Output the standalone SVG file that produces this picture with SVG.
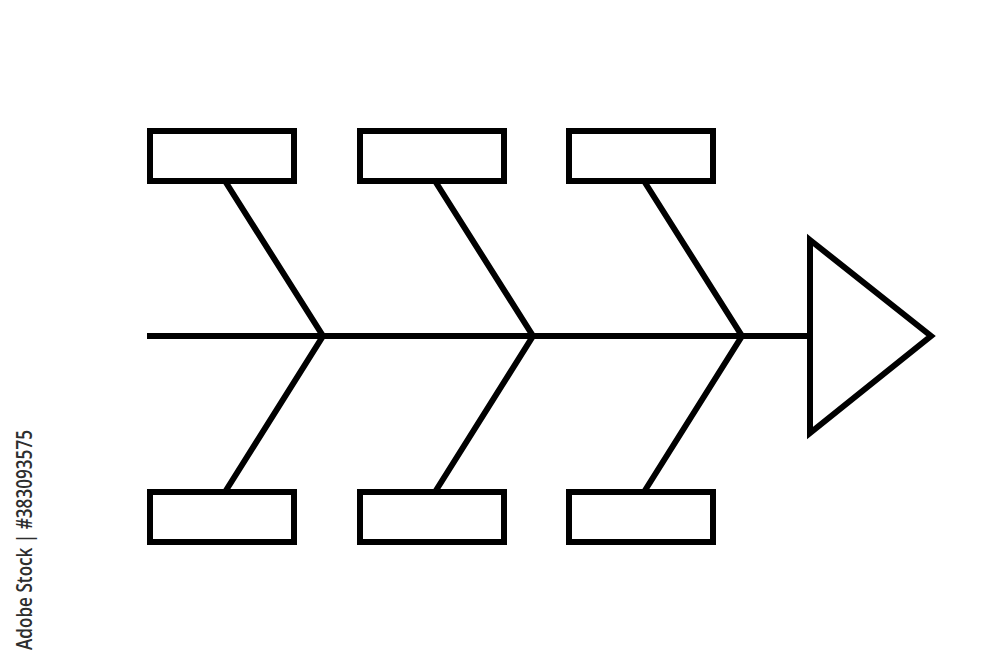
<svg xmlns="http://www.w3.org/2000/svg" width="1000" height="667" viewBox="0 0 1000 667">
  <style>
    .box { fill: #ffffff; stroke: #000000; stroke-width: 6; }
    .line { fill: none; stroke: #000000; stroke-width: 6; stroke-linejoin: miter; stroke-miterlimit: 10; }
    .wm { font-family: "Open Sans", "DejaVu Sans", sans-serif; font-size: 21px; font-weight: 600; fill: #2e2e2e; }
  </style>
  <rect x="0" y="0" width="1000" height="667" fill="#ffffff"/>
  <g id="connectors">
    <line class="line" x1="147" y1="336" x2="810" y2="336"/>
    <polyline class="line" points="225,181 323,336 225,492"/>
    <polyline class="line" points="435,181 533,336 435,492"/>
    <polyline class="line" points="644,181 742,336 644,492"/>
  </g>
  <g id="box-top-1"><rect class="box" x="150" y="131" width="144" height="50"/></g>
  <g id="box-top-2"><rect class="box" x="360" y="131" width="144" height="50"/></g>
  <g id="box-top-3"><rect class="box" x="569" y="131" width="144" height="50"/></g>
  <g id="box-bottom-1"><rect class="box" x="150" y="492" width="144" height="50"/></g>
  <g id="box-bottom-2"><rect class="box" x="360" y="492" width="144" height="50"/></g>
  <g id="box-bottom-3"><rect class="box" x="569" y="492" width="144" height="50"/></g>
  <g id="head"><polygon class="line" points="810,240 931,336 810,433" fill="#ffffff"/></g>
  <text class="wm" transform="translate(32,650) rotate(-90)" textLength="220" lengthAdjust="spacingAndGlyphs">Adobe Stock | #383093575</text>
</svg>
